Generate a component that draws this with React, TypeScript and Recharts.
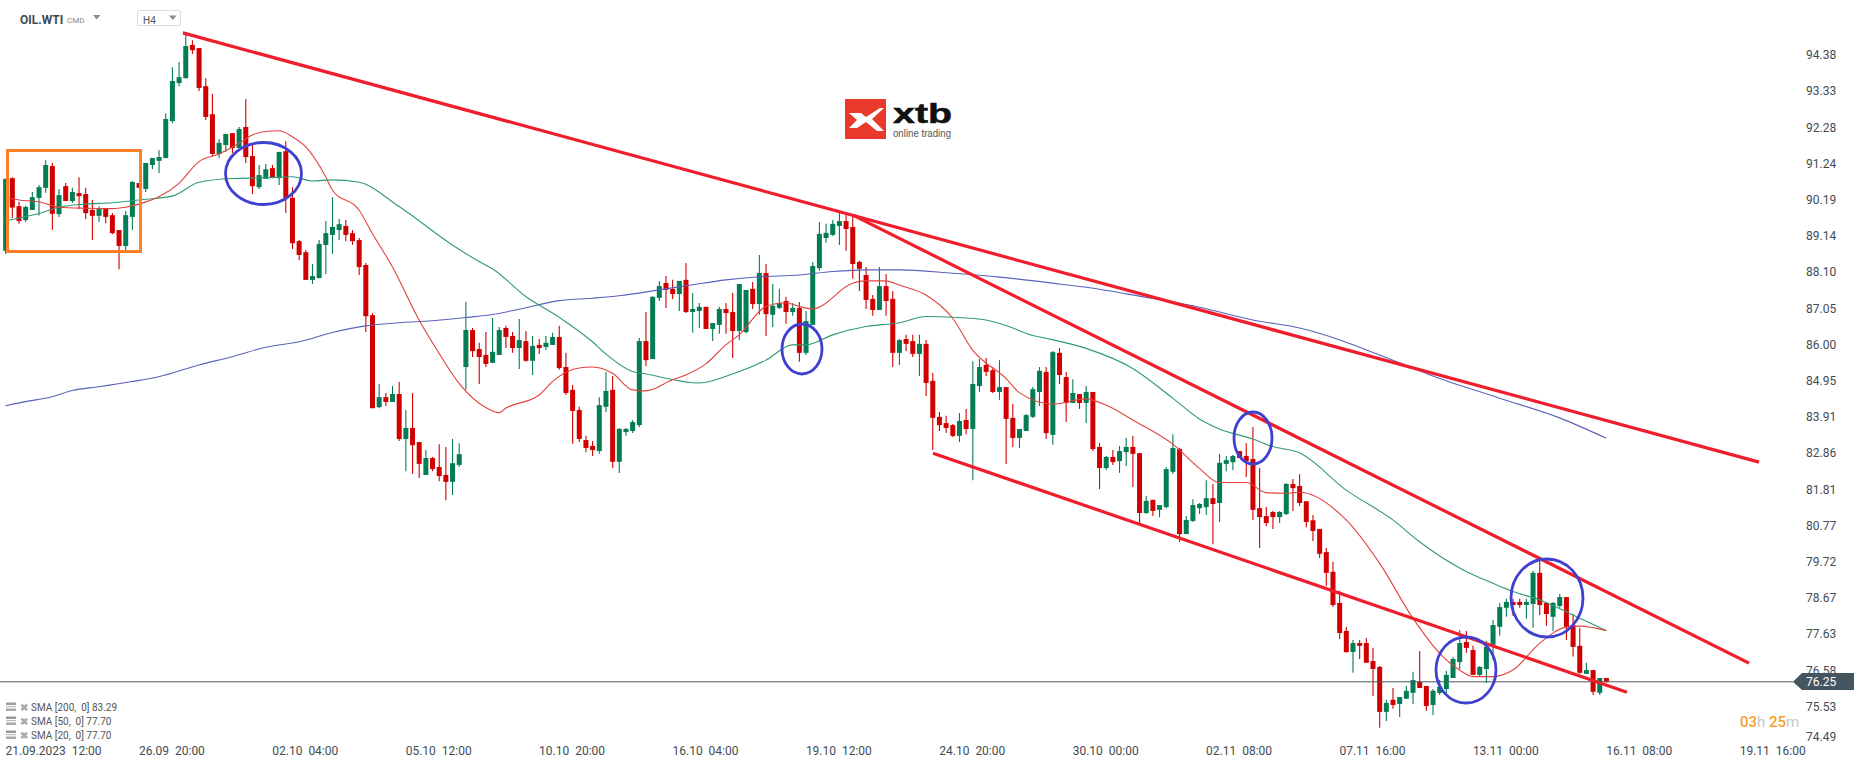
import React from "react";
import { ComposedChart, Bar, Line, XAxis, YAxis, ReferenceLine } from "recharts";

const opens = [
  88.71,90.81,90.00,89.60,89.89,90.24,90.53,91.16,89.77,90.58,
  90.15,90.38,90.35,89.89,89.72,89.92,89.74,89.31,88.85,89.69,
  90.67,90.50,91.19,91.31,91.39,92.46,93.56,93.70,94.66,94.57,
  93.47,92.66,91.51,91.77,92.11,91.68,92.29,91.45,90.55,90.79,
  91.10,90.81,91.59,90.24,88.99,88.67,87.87,87.92,88.88,89.17,
  89.31,89.43,89.22,89.02,88.30,86.85,84.19,84.48,84.34,84.57,
  83.27,83.59,83.18,82.23,82.72,82.46,82.23,82.03,82.52,85.35,
  86.42,85.87,85.70,85.47,85.70,86.48,86.25,85.90,86.10,85.53,
  85.99,85.93,85.99,86.22,85.35,84.69,84.11,83.24,83.07,82.92,
  84.20,84.69,82.61,83.47,83.50,83.67,86.10,85.58,87.35,87.78,
  87.61,87.46,87.87,86.94,86.97,87.09,86.45,86.57,87.03,86.94,
  86.39,86.36,87.61,87.17,88.07,86.86,87.06,87.26,86.94,87.06,
  85.76,86.57,88.21,89.08,89.17,89.43,89.57,89.40,88.39,88.01,
  87.32,87.00,87.69,87.32,85.76,86.16,86.10,85.73,86.02,84.95,
  83.91,83.73,83.67,83.36,83.82,83.56,84.80,85.41,85.26,84.63,
  84.77,83.88,83.30,83.50,83.91,84.63,85.21,83.39,85.76,85.06,
  84.31,84.57,84.31,84.63,83.04,82.43,82.75,82.63,82.89,83.04,
  82.86,81.13,81.51,81.22,81.30,82.32,82.98,80.52,80.90,81.27,
  81.30,81.56,81.42,82.55,82.60,82.92,82.78,82.69,81.27,81.04,
  81.16,81.01,81.10,81.97,81.91,81.47,80.92,80.67,80.00,79.43,
  78.53,77.72,77.11,77.37,77.37,76.85,76.68,75.38,75.73,75.61,
  75.76,75.93,76.25,76.13,75.58,75.93,76.04,76.36,76.82,77.40,
  77.17,76.45,76.62,77.32,77.84,78.39,78.56,78.56,78.47,78.50,
  79.40,78.53,78.13,78.44,78.70,77.89,77.29,76.48,76.59,75.93,
  76.36,
];
const closes = [
  90.79,89.96,89.57,89.98,90.26,90.55,91.19,89.78,90.32,90.15,
  90.41,90.29,89.80,89.72,89.92,89.69,89.22,88.85,89.74,90.70,
  90.53,91.25,91.39,91.42,92.52,93.62,93.73,94.63,94.51,93.42,
  92.58,91.51,91.83,92.09,91.68,92.23,91.42,90.58,90.90,91.07,
  90.84,91.57,90.24,88.93,88.59,87.87,87.98,88.91,89.22,89.40,
  89.48,89.17,88.99,88.24,86.82,84.16,84.48,84.34,84.57,83.27,
  83.59,83.09,82.55,82.72,82.40,82.20,82.03,82.57,82.83,86.42,
  85.81,85.64,85.44,85.79,86.42,86.22,85.90,86.13,85.53,85.96,
  85.90,86.05,86.22,85.32,84.60,84.08,83.27,83.01,82.95,84.25,
  84.66,82.61,83.56,83.56,83.76,86.10,85.55,87.38,87.69,87.58,
  87.46,87.84,86.94,87.03,87.09,86.45,86.62,87.03,86.91,86.39,
  87.75,87.58,87.17,88.07,86.88,87.12,87.20,86.94,87.06,85.76,
  86.68,88.27,89.20,89.23,89.49,89.57,89.34,88.33,88.19,87.29,
  87.00,87.69,87.26,85.76,86.13,86.02,85.73,86.02,84.89,83.88,
  83.67,83.59,83.36,83.79,83.56,84.86,85.35,85.21,84.63,84.77,
  83.85,83.30,83.56,83.96,84.71,85.24,83.44,85.78,85.12,84.31,
  84.60,84.31,84.63,82.98,82.43,82.75,82.60,82.92,83.04,82.84,
  81.13,81.48,81.19,81.36,82.40,83.01,80.52,80.93,81.36,81.39,
  81.56,81.39,82.58,82.66,82.78,82.72,82.63,81.22,81.01,80.84,
  81.01,81.16,81.97,81.85,81.42,80.87,80.61,79.95,79.40,78.47,
  77.66,77.11,77.37,77.29,76.80,76.62,75.38,75.64,75.58,75.81,
  75.99,76.30,76.07,75.55,75.99,76.11,76.45,76.91,77.37,77.23,
  76.45,76.68,77.26,77.89,78.41,78.56,78.47,78.47,78.56,79.40,
  78.47,78.21,78.53,78.70,77.84,77.26,76.51,76.59,75.96,76.36,
  76.25,
];
const highs = [
  90.79,90.84,90.12,90.01,90.41,90.61,91.33,91.25,90.50,90.67,
  90.53,90.84,90.53,90.18,90.00,89.92,89.80,89.31,89.86,90.73,
  90.67,91.25,91.39,91.62,92.69,94.02,94.17,95.01,94.80,94.57,
  93.70,93.24,91.94,92.09,92.11,92.29,93.10,91.77,91.19,91.22,
  91.19,91.57,91.88,90.55,89.02,88.73,88.33,89.02,89.57,90.26,
  89.63,89.60,89.31,89.08,88.36,86.91,84.86,84.60,84.80,84.92,
  84.11,84.60,83.18,82.95,82.75,83.12,83.04,83.27,83.15,87.23,
  86.48,86.05,86.36,86.77,86.51,86.54,86.36,86.74,86.39,86.25,
  86.16,86.25,86.34,86.54,85.76,84.83,84.20,83.36,83.21,84.48,
  85.21,85.09,83.59,83.59,83.82,86.19,86.94,87.40,87.84,87.98,
  87.87,87.84,88.36,87.49,87.20,87.09,86.62,87.09,87.20,87.49,
  87.75,87.58,87.81,88.59,88.33,87.75,87.61,87.38,87.20,87.23,
  86.97,88.39,89.54,89.49,89.60,89.80,89.78,89.69,88.42,88.24,
  87.43,88.24,88.04,87.55,86.16,86.28,86.28,86.28,86.13,85.18,
  84.05,83.94,83.70,84.02,84.14,85.52,85.58,85.61,85.35,85.55,
  84.77,84.28,83.56,83.99,84.77,85.35,85.35,85.81,85.90,85.21,
  85.00,84.57,84.80,84.63,83.15,82.78,82.95,83.07,83.30,83.36,
  82.86,81.62,81.51,81.36,82.46,83.41,83.01,81.04,81.53,81.42,
  82.08,81.97,82.84,82.78,82.81,82.92,83.15,83.62,82.43,81.30,
  81.19,81.19,82.00,82.11,82.25,81.47,81.07,80.67,80.12,79.72,
  78.88,77.84,77.46,77.46,77.52,77.23,76.71,75.73,76.07,75.81,
  76.13,76.54,77.14,76.13,76.04,76.30,76.56,76.97,77.75,77.72,
  77.29,76.71,77.43,78.04,78.53,78.65,78.65,78.65,78.65,79.46,
  79.77,78.56,78.56,78.79,78.70,78.21,77.81,76.80,76.59,76.36,
  76.36,
];
const lows = [
  88.62,89.66,89.49,89.54,89.89,89.73,90.39,89.31,89.69,90.15,
  90.09,89.92,89.63,89.02,89.54,89.51,89.19,88.18,88.73,89.31,
  90.53,90.41,91.07,90.96,91.39,92.40,93.47,93.70,94.40,93.33,
  92.49,91.45,91.39,91.57,91.54,91.68,91.25,90.35,90.50,90.79,
  90.81,90.61,89.80,88.76,88.44,87.87,87.75,87.92,88.04,88.62,
  89.02,88.99,88.88,88.01,86.36,84.16,84.16,84.22,84.34,83.21,
  82.34,82.26,82.14,82.23,82.34,82.05,81.50,81.65,82.46,84.69,
  85.64,84.86,85.35,85.47,85.70,85.90,85.76,85.29,85.50,85.12,
  85.73,85.84,85.99,85.27,84.54,83.13,83.18,82.89,82.78,82.84,
  84.05,82.43,82.29,83.36,83.44,83.62,85.38,85.58,87.26,87.06,
  87.32,86.97,86.91,86.34,86.48,86.45,86.10,86.31,86.31,85.61,
  86.13,86.33,87.03,86.86,86.25,86.51,87.03,86.60,86.83,85.50,
  85.70,86.57,88.13,88.94,89.14,88.88,88.71,87.90,87.55,87.03,
  86.83,87.00,86.83,85.35,85.41,85.81,85.64,85.09,84.51,82.95,
  83.50,83.44,83.33,83.18,83.41,82.08,84.63,85.09,84.60,84.40,
  82.55,83.04,83.01,83.50,83.88,84.22,83.27,83.10,84.86,83.76,
  84.31,84.14,83.73,82.92,81.82,82.37,82.52,82.29,82.49,81.88,
  80.78,81.10,81.04,81.01,81.27,82.26,80.29,80.52,80.87,81.10,
  81.07,80.23,80.87,82.34,82.37,82.72,82.17,80.93,80.12,80.75,
  80.67,80.84,81.07,81.19,81.33,80.72,80.32,79.83,79.02,78.41,
  77.49,77.09,76.51,76.91,76.80,75.84,74.92,75.12,75.47,75.23,
  75.76,75.61,76.07,75.41,75.29,75.87,75.87,76.36,76.62,77.09,
  76.45,76.42,76.22,76.88,77.58,78.13,78.15,78.39,78.07,77.81,
  78.18,77.87,77.72,78.39,77.46,76.98,76.48,76.48,75.87,75.87,
  76.22,
];

const sma200Index = [0,3,7,10,14,19,23,29,34,39,44,49,54,59,64,69,74,77,83,88,92,98,103,108,113,119,124,129,134,142,149,158,164,170,179,187,194,209,214,224,233,240];
const sma200Value = [84.23,84.35,84.49,84.67,84.78,84.93,85.07,85.41,85.65,85.92,86.08,86.35,86.54,86.63,86.69,86.78,86.90,87.02,87.27,87.34,87.41,87.58,87.73,87.87,87.96,88.01,88.11,88.16,88.16,88.06,87.95,87.75,87.60,87.40,87.08,86.71,86.48,85.47,85.09,84.45,83.88,83.29];

const sma50Index = [0,5,8,12,16,20,25,29,34,39,43,46,49,53,59,67,71,73,78,83,88,90,94,96,104,109,114,118,120,124,129,134,138,142,147,150,154,156,162,169,175,179,182,187,190,194,201,208,212,219,223,226,230,235,240];
const sma50Value = [89.58,89.79,89.97,90.06,90.10,90.18,90.29,90.69,90.80,90.82,90.85,90.73,90.76,90.69,89.99,88.88,88.40,88.19,87.39,86.79,86.08,85.73,85.22,85.15,84.89,85.15,85.55,85.99,85.99,86.28,86.52,86.63,86.81,86.79,86.71,86.55,86.26,86.18,85.89,85.31,84.45,83.85,83.56,83.27,83.05,82.87,81.79,80.93,80.30,79.44,79.10,78.86,78.62,78.18,77.73];

const sma20Index = [0,2,5,8,12,16,18,20,23,26,29,32,35,37,39,41,43,45,48,49,53,55,58,62,65,68,72,74,75,80,82,86,88,91,94,96,100,102,105,108,110,114,117,119,121,127,129,132,134,138,142,145,150,152,157,162,165,169,175,179,182,186,189,192,194,201,206,211,215,218,220,223,226,230,234,236,240];
const sma20Value = [90.25,90.18,90.13,89.97,89.94,89.93,89.97,90.06,90.27,90.66,91.29,91.51,91.82,92.06,92.16,92.18,92.01,91.72,90.85,90.47,89.89,89.21,88.25,86.71,85.75,84.88,84.18,84.03,84.16,84.54,84.93,85.32,85.35,85.17,84.69,84.66,84.98,85.12,85.44,85.99,86.28,87.10,87.21,87.10,87.03,87.77,87.84,87.84,87.72,87.43,86.76,85.84,85.02,84.61,84.28,84.43,84.25,83.82,83.12,82.42,82.01,82.01,81.72,81.70,81.73,80.93,79.68,78.09,77.08,76.59,76.40,76.40,76.59,77.36,77.83,77.86,77.73];

const priceTicks = [94.38,93.33,92.28,91.24,90.19,89.14,88.10,87.05,86.00,84.95,83.91,82.86,81.81,80.77,79.72,78.67,77.63,76.58,75.53,74.49];
const timeTickIndex = [0,20,40,60,80,100,120,140,160,180,200,220,240,260];
const timeLabels = ["21.09.2023  12:00","26.09  20:00","02.10  04:00","05.10  12:00","10.10  20:00","16.10  04:00","19.10  12:00","24.10  20:00","30.10  00:00","02.11  08:00","07.11  16:00","13.11  00:00","16.11  08:00","19.11  16:00"];

const trendLines = [
  { x1: 26.6, y1: 95.01, x2: 262.9, y2: 82.6 },
  { x1: 127.06, y1: 89.74, x2: 261.4, y2: 76.79 },
  { x1: 139.06, y1: 82.86, x2: 243.1, y2: 75.95 },
];
const lastPrice = 76.25;
const smaLegend = ["SMA [200,  0] 83.29", "SMA [50,  0] 77.70", "SMA [20,  0] 77.70"];

const candles = opens.map((open, i) => ({ i, open, close: closes[i], high: highs[i], low: lows[i] }));
const toPoints = (index: number[], value: number[]) => index.map((i, k) => ({ i, v: value[k] }));

const W = 1866, H = 767;
const UP = "#047d55", DOWN = "#d10000";
const FONT = "Roboto, sans-serif";
const TEXT = "#444c52";

function Candle(props: any) {
  const { x, y, width, height, payload } = props;
  const top = height < 0 ? y + height : y;
  const h = Math.abs(height);
  const range = payload.high - payload.low || 1;
  const k = h / range;
  const color = payload.close >= payload.open ? UP : DOWN;
  const bodyTop = top + (payload.high - Math.max(payload.open, payload.close)) * k;
  const bodyH = Math.max(Math.abs(payload.open - payload.close) * k, 1);
  const cx = x + width / 2;
  return (
    <g>
      <line x1={cx} x2={cx} y1={top} y2={top + h} stroke={color} strokeWidth={1.1} />
      <rect x={cx - 2.5} y={bodyTop} width={5} height={bodyH} fill={color} />
    </g>
  );
}

function PriceTick(props: any) {
  const v = props.payload.value;
  const dy = v === priceTicks[priceTicks.length - 1] ? -1.6 : 4.3;
  return (
    <text x={1806} y={props.y + dy} fontFamily={FONT} fontSize={12} fill={TEXT}>
      {Number(v).toFixed(2)}
    </text>
  );
}

function TimeTick(props: any) {
  const k = timeTickIndex.indexOf(props.payload.value);
  return (
    <text x={props.x} y={755} fontFamily={FONT} fontSize={12} fill={TEXT} style={{ whiteSpace: "pre" }}>
      {timeLabels[k]}
    </text>
  );
}

function Overlay() {
  const ellipses = [
    [263.5, 173.5, 38, 31],
    [802, 349, 20, 25],
    [1253, 438, 19, 26],
    [1466, 670, 30, 33],
    [1547, 598, 36, 39],
  ];
  return (
    <svg width={W} height={H} style={{ position: "absolute", left: 0, top: 0, pointerEvents: "none" }}>
      <rect x={7.5} y={150.5} width={133} height={101} fill="none" stroke="#ff7f27" strokeWidth={3} />
      {ellipses.map((e, n) => (
        <ellipse key={n} cx={e[0]} cy={e[1]} rx={e[2]} ry={e[3]} fill="none" stroke="#3f3fd0" strokeWidth={2.8} />
      ))}

      <text x={20} y={23.5} fontFamily={FONT} fontWeight={700} fontSize={12} fill="#3f4a52">OIL.WTI</text>
      <text x={67} y={22.5} fontFamily={FONT} fontSize={8} fill="#8a8a8a">CMD</text>
      <polygon points="93,15 100.5,15 96.7,19.5" fill="#8c8c8c" />
      <rect x={137.5} y={10.5} width={43} height={15} rx={1.5} fill="#fff" stroke="#dcdcdc" />
      <text x={143} y={24} fontFamily={FONT} fontSize={10} fill="#555">H4</text>
      <polygon points="169,15.5 176.5,15.5 172.7,20" fill="#8c8c8c" />

      <rect x={845} y={99} width={41} height={40} fill="#e8392c" />
      <polygon points="849,113 861,113 866,117 880,108 884,108 872,119 884,131 877,131 866,122 857,128 849,128 857,120" fill="#fff" />
      <text x={893} y={123} fontFamily="Liberation Sans, Arial, sans-serif" fontWeight={700} fontSize={27} fill="#111" stroke="#111" strokeWidth={0.5} textLength={59} lengthAdjust="spacingAndGlyphs">xtb</text>
      <text x={893} y={137} fontFamily="Liberation Sans, Arial, sans-serif" fontSize={10} fill="#555" textLength={58} lengthAdjust="spacingAndGlyphs">online trading</text>

      {smaLegend.map((t, n) => {
        const y = 707.5 + n * 14;
        return (
          <g key={t}>
            <rect x={6} y={y - 5} width={10} height={2.5} fill="#999" />
            <rect x={6} y={y - 1.5} width={10} height={1.2} fill="#bbb" />
            <rect x={6} y={y + 1} width={10} height={2.5} fill="#aaa" />
            <text x={19.5} y={y + 3} fontFamily={FONT} fontWeight={700} fontSize={9.5} fill="#aaa">✖</text>
            <text x={31} y={y + 3.5} fontFamily={FONT} fontSize={10} fill="#555" style={{ whiteSpace: "pre" }}>{t}</text>
          </g>
        );
      })}

      <polygon points="1793,681.7 1802,673 1854,673 1854,690 1802,690" fill="#44555f" />
      <text x={1806} y={686} fontFamily={FONT} fontSize={12} fill="#fff">{lastPrice.toFixed(2)}</text>

      <text x={1740} y={727} fontFamily={FONT} fontSize={15} style={{ whiteSpace: "pre" }}>
        <tspan fill="#f7a030" fontWeight={500}>03</tspan>
        <tspan fill="#c8c8c8">h </tspan>
        <tspan fill="#f7a030" fontWeight={500}>25</tspan>
        <tspan fill="#c8c8c8">m</tspan>
      </text>
    </svg>
  );
}

export default function App() {
  return (
    <div style={{ position: "absolute", left: 0, top: 0, width: W, height: H, background: "#fff", overflow: "hidden" }}>
      <ComposedChart width={W} height={H} data={candles} margin={{ top: 0, right: 0, bottom: 0, left: 0 }}>
        <XAxis
          type="number"
          dataKey="i"
          domain={[-0.8246, 278.94]}
          allowDataOverflow
          ticks={timeTickIndex}
          interval={0}
          mirror
          axisLine={false}
          tickLine={false}
          tick={<TimeTick />}
        />
        <YAxis
          type="number"
          domain={[73.787, 95.961]}
          allowDataOverflow
          ticks={priceTicks}
          interval={0}
          orientation="right"
          mirror
          axisLine={false}
          tickLine={false}
          tick={<PriceTick />}
        />
        <Line data={toPoints(sma200Index, sma200Value)} dataKey="v" type="monotone" stroke="#5a63bb" strokeWidth={1.1} dot={false} activeDot={false} isAnimationActive={false} />
        <Line data={toPoints(sma50Index, sma50Value)} dataKey="v" type="monotone" stroke="#2f9a78" strokeWidth={1.1} dot={false} activeDot={false} isAnimationActive={false} />
        <Bar dataKey={(d: any) => [d.low, d.high]} barSize={5} shape={<Candle />} activeBar={false} isAnimationActive={false} />
        <Line data={toPoints(sma20Index, sma20Value)} dataKey="v" type="monotone" stroke="#e2423f" strokeWidth={1.1} dot={false} activeDot={false} isAnimationActive={false} />
        <ReferenceLine
          segment={[{ x: -0.82, y: lastPrice }, { x: 268, y: lastPrice }]}
          stroke="#4a5860"
          strokeWidth={1}
          ifOverflow="visible"
        />
        {trendLines.map((t, n) => (
          <ReferenceLine
            key={n}
            segment={[{ x: t.x1, y: t.y1 }, { x: t.x2, y: t.y2 }]}
            stroke="#f01e2c"
            strokeWidth={3.2}
            ifOverflow="visible"
          />
        ))}
      </ComposedChart>
      <Overlay />
    </div>
  );
}
